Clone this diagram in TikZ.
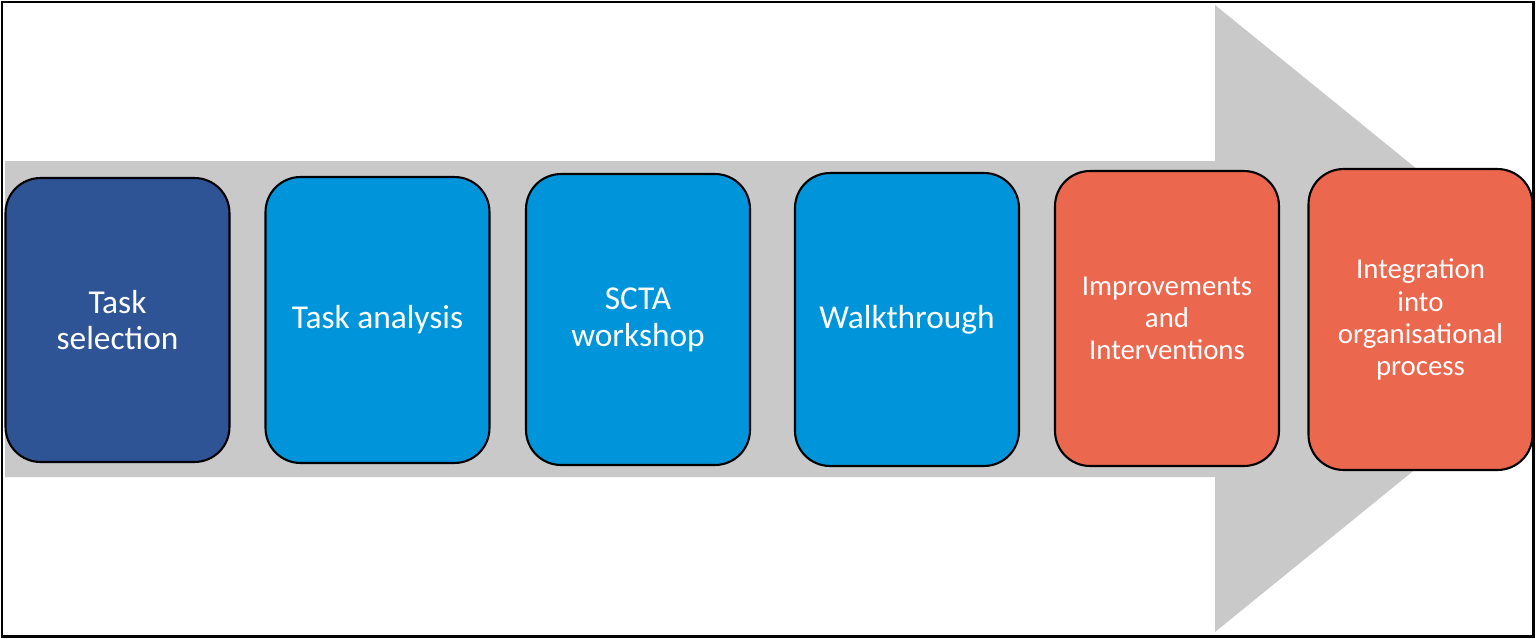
\documentclass[tikz,border=0pt]{standalone}
\usepackage{fontspec}
\setmainfont{Carlito}
\usepackage{tikz}
\usetikzlibrary{positioning}

\definecolor{selblue}{RGB}{46,84,150}
\definecolor{stepblue}{RGB}{0,149,218}
\definecolor{steporange}{RGB}{235,104,79}
\definecolor{arrowgray}{RGB}{201,201,201}

\begin{document}
\begin{tikzpicture}[
    x=0.02cm, y=-0.02cm,
    stage/.style={rectangle,draw,line width=1.2pt,rounded corners=0.7cm,minimum width=4.48cm,inner sep=0pt,align=center,text=white},
    bluetext/.style={font=\fontsize{19}{21}\selectfont},
    redtext/.style={font=\fontsize{16.4}{18.3}\selectfont}
]
\useasboundingbox (0,0) rectangle (1536,639);

\begin{scope}
\clip (3,3) rectangle (1532,635);
\fill[arrowgray] (5,161) -- (1215,161) -- (1215,5) -- (1601,318.5) -- (1215,632) -- (1215,477) -- (5,477) -- cycle;
\end{scope}

\node[stage,bluetext,fill=selblue,minimum height=5.68cm] (task_sel) at (117.5,320) {Task\\selection};
\node[stage,bluetext,fill=stepblue,minimum height=5.72cm] (task_ana) at (377.5,320) {Task analysis};
\node[stage,bluetext,fill=stepblue,minimum height=5.82cm] (scta) at (638,319.5) {SCTA\\workshop};
\node[stage,bluetext,fill=stepblue,minimum height=5.86cm] (walkthrough) at (907,319.5) {Walkthrough};
\node[stage,redtext,fill=steporange,minimum height=5.9cm] (improve) at (1167,318.5) {Improvements\\and\\Interventions};
\node[stage,redtext,fill=steporange,minimum height=6.02cm] (integrate) at (1420.5,319.5) {Integration\\into\\organisational\\process};

\draw[line width=0.06cm] (2,2) rectangle (1533,636);
\end{tikzpicture}
\end{document}
